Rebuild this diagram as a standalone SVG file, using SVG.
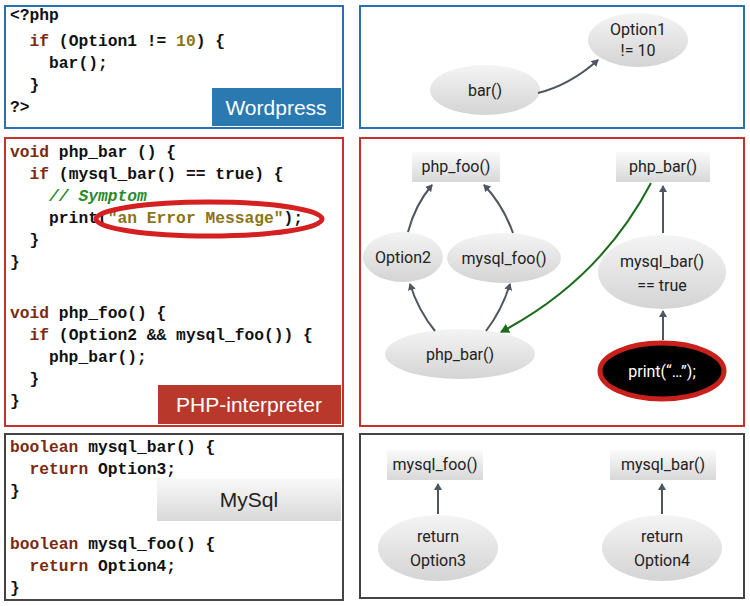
<svg xmlns="http://www.w3.org/2000/svg" width="750" height="606" viewBox="0 0 750 606">
<defs>
<linearGradient id="eg" x1="0" y1="0" x2="0" y2="1"><stop offset="0" stop-color="#f4f4f4"/><stop offset="1" stop-color="#d4d4d4"/></linearGradient>
<linearGradient id="bg" x1="0" y1="0" x2="0" y2="1"><stop offset="0" stop-color="#fafafa"/><stop offset="1" stop-color="#d8d8d8"/></linearGradient>
<marker id="ar" markerWidth="8" markerHeight="8" refX="6" refY="4" orient="auto" markerUnits="userSpaceOnUse"><path d="M0,0 L7,4 L0,8 z" fill="#4f5660"/></marker>
<marker id="ag" markerWidth="10" markerHeight="10" refX="8" refY="5" orient="auto" markerUnits="userSpaceOnUse"><path d="M0,0 L9,5 L0,10 z" fill="#1a6b1a"/></marker>
</defs>
<style>
.code{font-family:"Liberation Mono","DejaVu Sans Mono",monospace;font-size:16.3px;font-weight:bold;fill:#111}
.kw{fill:#7a2a10}.num{fill:#8a7418}.cm{fill:#2a8a2a;font-style:italic}
.lbl{font-family:"Roboto","Liberation Sans",sans-serif;font-size:16px;fill:#222;text-anchor:middle}
.e{fill:url(#eg)}
.b{fill:url(#bg)}
.c{fill:none;stroke:#4f5660;stroke-width:2;marker-end:url(#ar)}
.big{font-family:"Liberation Sans",sans-serif;font-size:21px;text-anchor:middle}
</style>
<rect width="750" height="606" fill="#fff"/>
<g id="panels" fill="none" stroke-width="2">
<rect x="5" y="6" width="338" height="122" stroke="#2a6fb5"/>
<rect x="360" y="6" width="384" height="122" stroke="#2a6fb5"/>
<rect x="5" y="138" width="338" height="288" stroke="#c8302a"/>
<rect x="360" y="138" width="384" height="288" stroke="#c8302a"/>
<rect x="5" y="434" width="338" height="166" stroke="#444"/>
<rect x="360" y="434" width="384" height="164" stroke="#444"/>
</g>
<g id="code-wordpress">
<text class="code" x="10" y="20">&lt;?php</text>
<text class="code" x="10" y="46" xml:space="preserve">  <tspan class="kw">if</tspan> (Option1 != <tspan class="num">10</tspan>) {</text>
<text class="code" x="10" y="68" xml:space="preserve">    bar();</text>
<text class="code" x="10" y="90" xml:space="preserve">  }</text>
<text class="code" x="10" y="112">?&gt;</text>
<rect x="212" y="88" width="129" height="38" fill="#2a79b0"/>
<text class="big" x="276" y="115" fill="#fff">Wordpress</text>
</g>
<g id="code-php">
<text class="code" x="10" y="157"><tspan class="kw">void</tspan> php_bar () {</text>
<text class="code" x="10" y="179" xml:space="preserve">  <tspan class="kw">if</tspan> (mysql_bar() == true) {</text>
<text class="code" x="10" y="201" xml:space="preserve">    <tspan class="cm">// Symptom</tspan></text>
<text class="code" x="10" y="223" xml:space="preserve">    print(<tspan class="num">"an Error Message"</tspan>);</text>
<text class="code" x="10" y="245" xml:space="preserve">  }</text>
<text class="code" x="10" y="267">}</text>
<text class="code" x="10" y="318"><tspan class="kw">void</tspan> php_foo() {</text>
<text class="code" x="10" y="340" xml:space="preserve">  <tspan class="kw">if</tspan> (Option2 &amp;&amp; mysql_foo()) {</text>
<text class="code" x="10" y="362" xml:space="preserve">    php_bar();</text>
<text class="code" x="10" y="384" xml:space="preserve">  }</text>
<text class="code" x="10" y="406">}</text>
<ellipse cx="209" cy="219" rx="113" ry="17" fill="none" stroke="#d42020" stroke-width="5"/>
<rect x="158" y="385" width="183" height="39" fill="#b8392c"/>
<text class="big" x="249" y="412" fill="#fff">PHP-interpreter</text>
</g>
<g id="code-mysql">
<text class="code" x="10" y="452"><tspan class="kw">boolean</tspan> mysql_bar() {</text>
<text class="code" x="10" y="474" xml:space="preserve">  <tspan class="kw">return</tspan> Option3;</text>
<text class="code" x="10" y="496">}</text>
<text class="code" x="10" y="549"><tspan class="kw">boolean</tspan> mysql_foo() {</text>
<text class="code" x="10" y="571" xml:space="preserve">  <tspan class="kw">return</tspan> Option4;</text>
<text class="code" x="10" y="593">}</text>
<rect x="157" y="478" width="184" height="43" fill="url(#bg)"/>
<text class="big" x="249" y="507" fill="#222">MySql</text>
</g>
<g id="n-option1"><ellipse class="e" cx="638" cy="40" rx="50" ry="27"/><text class="lbl" x="638" y="35">Option1</text><text class="lbl" x="638" y="56">!= 10</text></g>
<g id="n-bar"><ellipse class="e" cx="485" cy="90" rx="55" ry="25"/><text class="lbl" x="485" y="96">bar()</text></g>
<g id="n-phpfoo"><rect class="b" x="412" y="152" width="88" height="30"/><text class="lbl" x="456" y="172">php_foo()</text></g>
<g id="n-phpbar-top"><rect class="b" x="616" y="152" width="94" height="30"/><text class="lbl" x="663" y="172">php_bar()</text></g>
<g id="n-option2"><ellipse class="e" cx="403" cy="257" rx="40" ry="25"/><text class="lbl" x="403" y="263">Option2</text></g>
<g id="n-mysqlfoo"><ellipse class="e" cx="504" cy="258" rx="57" ry="25"/><text class="lbl" x="504" y="264">mysql_foo()</text></g>
<g id="n-mysqlbar-true"><ellipse class="e" cx="662" cy="272" rx="64" ry="37"/><text class="lbl" x="662" y="267">mysql_bar()</text><text class="lbl" x="662" y="291">== true</text></g>
<g id="n-phpbar-low"><ellipse class="e" cx="460" cy="354" rx="75" ry="25"/><text class="lbl" x="460" y="360">php_bar()</text></g>
<g id="n-print"><ellipse cx="662" cy="371" rx="62" ry="28" fill="#000" stroke="#c8201a" stroke-width="5"/><text class="lbl" x="662" y="377" style="fill:#fff">print(“…”);</text></g>
<g id="n-mysqlfoo-b"><rect class="b" x="387" y="450" width="96" height="30"/><text class="lbl" x="435" y="470">mysql_foo()</text></g>
<g id="n-mysqlbar-b"><rect class="b" x="610" y="450" width="106" height="30"/><text class="lbl" x="663" y="470">mysql_bar()</text></g>
<g id="n-ret3"><ellipse class="e" cx="438" cy="548" rx="60" ry="33"/><text class="lbl" x="438" y="542">return</text><text class="lbl" x="438" y="566">Option3</text></g>
<g id="n-ret4"><ellipse class="e" cx="662" cy="548" rx="60" ry="33"/><text class="lbl" x="662" y="542">return</text><text class="lbl" x="662" y="566">Option4</text></g>
<g id="connectors">
<path class="c" d="M538,93 Q570,85 598,60"/>
<path class="c" d="M408,232 Q415,205 432,185"/>
<path class="c" d="M513,233 Q503,205 484,185"/>
<path class="c" d="M435,331 Q418,310 410,284"/>
<path class="c" d="M486,331 Q502,310 510,284"/>
<path class="c" d="M663,233 L663,186"/>
<path class="c" d="M663,340 L663,311"/>
<path class="c" d="M438,514 L438,484"/>
<path class="c" d="M662,514 L662,484"/>
<path d="M651,183 Q600,280 501,332" fill="none" stroke="#1a6b1a" stroke-width="2" marker-end="url(#ag)"/>
</g>
</svg>
